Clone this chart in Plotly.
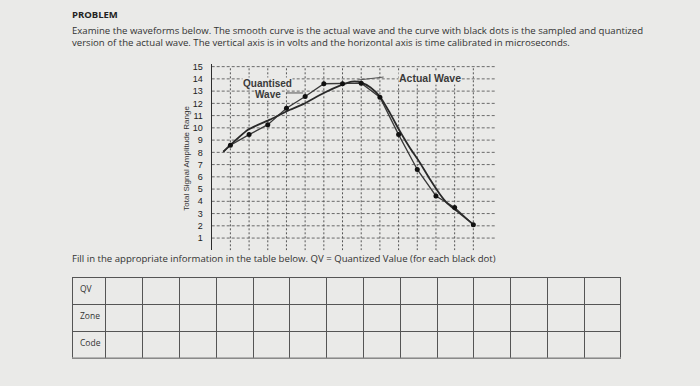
import plotly.graph_objects as go

# ---- data ----
actual_t = [0.62, 1.96, 3.12, 3.65, 4.19, 4.9, 5.97, 6.96, 7.5, 7.97, 8.5, 9.0, 9.54,
            10.07, 10.61, 11.14, 11.68, 12.21, 12.57, 13.11, 14.03]
actual_v = [8.05, 9.86, 10.67, 11.08, 11.48, 11.94, 12.83, 13.51, 13.78, 13.72, 13.3, 12.56, 11.2,
            9.72, 8.36, 7.15, 5.8, 4.58, 3.9, 3.22, 2.08]
sample_t = [1, 2, 3, 4, 5, 6, 7, 8, 9, 10, 11, 12, 13, 14]
sample_v = [8.58, 9.45, 10.26, 11.6, 12.56, 13.6, 13.6, 13.65, 12.5, 9.45, 6.6, 4.44, 3.5, 2.08]
y_ticks = list(range(1, 16))
row_labels = ["QV", "Zone", "Code"]

BG = "#eaeae8"
INK = "#2e2e2e"
BODY = "Open Sans"
CHART = "Liberation Sans"

fig = go.Figure()

# grid (dashed)
for v in y_ticks:
    fig.add_shape(type="line", xref="x", yref="y", x0=0, x1=15.15, y0=v, y1=v,
                  line=dict(color="#6a6a6a", width=1, dash="3px,2px"), layer="below")
for t in sample_t:
    fig.add_shape(type="line", xref="x", yref="y", x0=t, x1=t, y0=0, y1=15,
                  line=dict(color="#555555", width=1, dash="2px,2px"), layer="below")

# quantized wave
fig.add_trace(go.Scatter(x=[actual_t[0]] + sample_t, y=[actual_v[0]] + sample_v,
                         mode="lines", line=dict(color="#3a3a3a", width=1.3),
                         hoverinfo="skip", showlegend=False))
# actual wave
fig.add_trace(go.Scatter(x=actual_t, y=actual_v, mode="lines",
                         line=dict(color="#2a2a2a", width=1.8, shape="spline", smoothing=0.6),
                         hoverinfo="skip", showlegend=False))
# sample dots
fig.add_trace(go.Scatter(x=sample_t, y=sample_v, mode="markers",
                         marker=dict(color="#111111", size=5),
                         hoverinfo="skip", showlegend=False))

# x-axis arrow
fig.add_annotation(x=17.5, y=0, ax=-0.3, ay=0, xref="x", yref="y", axref="x", ayref="y",
                   showarrow=True, arrowhead=2, arrowsize=1, arrowwidth=1, arrowcolor=INK, text="")

# labels on chart
fig.add_shape(type="line", xref="x", yref="y", x0=4.0, y0=12.85, x1=4.9, y1=12.85,
              line=dict(color="#555", width=1))
fig.add_shape(type="line", xref="x", yref="y", x0=7.8, y0=13.9, x1=9.2, y1=14.15,
              line=dict(color="#555", width=1))
fig.add_annotation(x=3.01, y=13.62, xref="x", yref="y", text="<b>Quantised</b>",
                   showarrow=False, font=dict(family=CHART, size=10, color="#3a3a3a"),
                   bgcolor=BG, borderpad=0)
fig.add_annotation(x=3.01, y=12.72, xref="x", yref="y", text="<b>Wave</b>",
                   showarrow=False, font=dict(family=CHART, size=10, color="#3a3a3a"),
                   bgcolor=BG, borderpad=0)
fig.add_annotation(x=11.7, y=14.1, xref="x", yref="y", text="<b>Actual Wave</b>",
                   showarrow=False, font=dict(family=CHART, size=10.5, color="#3a3a3a"),
                   bgcolor=BG, borderpad=0)

# y axis title
fig.add_annotation(x=180 / 700, y=1 - 157 / 386, xref="paper", yref="paper",
                   text="Total Signal Amplitude Range", textangle=-90, showarrow=False,
                   font=dict(family="Liberation Sans Narrow, Liberation Sans", size=8, color="#333"))

# text block
fig.add_annotation(x=70 / 700, y=1 - 13 / 386, xref="paper", yref="paper", xanchor="left",
                   yanchor="middle", text="<b>PROBLEM</b>", showarrow=False,
                   font=dict(family=BODY, size=9.5, color="#222"))
fig.add_annotation(x=70 / 700, y=1 - 35 / 386, xref="paper", yref="paper", xanchor="left",
                   yanchor="middle", align="left", showarrow=False,
                   text="Examine the waveforms below. The smooth curve is the actual wave and the curve with black dots is the sampled and quantized<br>"
                        "version of the actual wave. The vertical axis is in volts and the horizontal axis is time calibrated in microseconds.",
                   font=dict(family=BODY, size=9.6, color="#333"))
fig.add_annotation(x=70 / 700, y=1 - 258 / 386, xref="paper", yref="paper", xanchor="left",
                   yanchor="middle", showarrow=False,
                   text="Fill in the appropriate information in the table below. QV = Quantized Value (for each black dot)",
                   font=dict(family=BODY, size=9.6, color="#333"))

# table
ncol = len(sample_t)
fig.add_trace(go.Table(
    domain=dict(x=[72 / 700, 621 / 700], y=[1 - 358 / 386, 1 - 277 / 386]),
    columnwidth=[34] + [36.8] * ncol,
    header=dict(values=[row_labels[0]] + [""] * ncol, height=27, align="left",
                fill_color="rgba(0,0,0,0)", line=dict(color="#555", width=1),
                font=dict(family=BODY, size=8.5, color="#333")),
    cells=dict(values=[[row_labels[1], row_labels[2]]] + [["", ""]] * ncol, height=27,
               align="left", fill_color="rgba(0,0,0,0)", line=dict(color="#555", width=1),
               font=dict(family=BODY, size=8.5, color="#333")),
))
fig.add_shape(type="line", xref="paper", yref="paper", x0=72 / 700, x1=621 / 700,
              y0=1 - 358 / 386, y1=1 - 358 / 386, line=dict(color="#555", width=1))

fig.update_layout(
    width=700, height=386, margin=dict(l=0, r=0, t=0, b=0),
    paper_bgcolor=BG, plot_bgcolor="rgba(0,0,0,0)",
    xaxis=dict(domain=[211.7 / 700, 538 / 700], range=[0, 17.46], showgrid=False,
               zeroline=False, showticklabels=False, showline=False, fixedrange=True),
    yaxis=dict(domain=[1 - 249.6 / 386, 1 - 62.5 / 386], range=[0, 15.2], showgrid=False,
               zeroline=False, tickmode="array", tickvals=y_ticks,
               ticktext=[str(v) for v in y_ticks], showline=True, linecolor=INK, linewidth=1.2,
               ticks="", ticklabelstandoff=6,
               tickfont=dict(family=CHART, size=9, color="#222"), fixedrange=True),
)
fig.write_html("out.html", config={"displayModeBar": False},
               post_script="document.body.style.margin='0';document.body.style.background='" + BG + "';")
